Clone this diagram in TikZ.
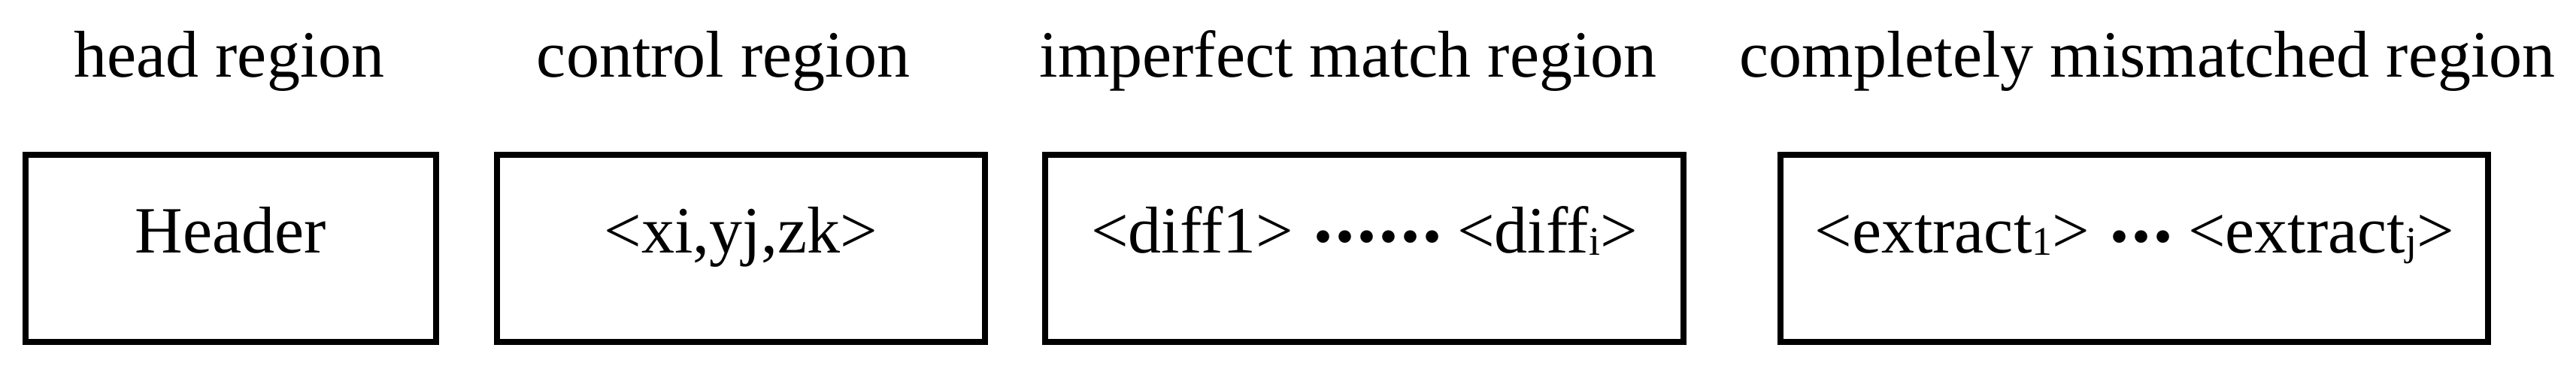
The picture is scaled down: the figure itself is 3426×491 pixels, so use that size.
\documentclass[tikz,border=0pt]{standalone}
\usepackage{fontspec}
\setmainfont{Liberation Serif}
\newcommand\regdot{\raisebox{7.5pt}{\fontsize{70pt}{70pt}\selectfont.}\kern-3pt}
\newcommand\regsub[1]{\raisebox{-1.5pt}{\fontsize{27pt}{29pt}\selectfont #1}}

\begin{document}
\begin{tikzpicture}[x=0.5pt,y=-0.5pt]
\tikzset{font=\fontsize{44pt}{52pt}\selectfont,
  region/.style={draw,line width=4pt,inner sep=0pt,minimum height=124.5pt,
    text height=.75em,text depth=.13em},
  regtitle/.style={anchor=base,inner sep=0pt}}
\useasboundingbox (0,0) rectangle (3426,491);
\node[region,minimum width=273pt] (header) at (307,330.5) {Header};
\node[region,minimum width=324.5pt] (control) at (985.5,330.5) {<xi,yj,zk>};
\node[region,minimum width=424.5pt] (imperfect) at (1814.5,330.5)
    {<diff1> \regdot\regdot\regdot\regdot\regdot\regdot\ <diff\regsub{i}>};
\node[region,minimum width=470.5pt] (mismatch) at (2838.5,330.5)
    {<extract\regsub{1}> \regdot\regdot\regdot\ <extract\regsub{j}>};
\node[regtitle] (headtitle) at (305,103) {head region};
\node[regtitle] (controltitle) at (962,103) {control region};
\node[regtitle] (imperfecttitle) at (1793,103) {imperfect match region};
\node[regtitle] (mismatchtitle) at (2856,103) {completely mismatched region};
\end{tikzpicture}
\end{document}
